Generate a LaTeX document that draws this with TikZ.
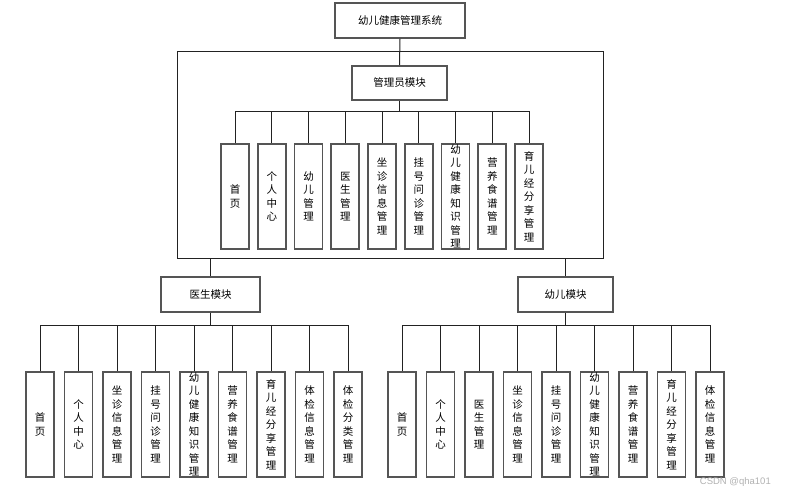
\documentclass[tikz,border=0pt]{standalone}
\usepackage{fontspec}
\newfontfamily\cjk{Noto Sans CJK SC}
\setsansfont{Liberation Sans}
\definecolor{boxline}{HTML}{555555}
\definecolor{conn}{HTML}{222222}
\begin{document}
\begin{tikzpicture}[x=1pt,y=-1pt,
  hbox/.style={draw=boxline,line width=1.6pt,fill=white,inner sep=0pt,font=\cjk\fontsize{10.5}{12}\selectfont},
  vbox/.style={draw=boxline,line width=1.6pt,fill=white,inner sep=0pt,minimum width=28,minimum height=105,align=center,font=\cjk\fontsize{10.5}{13.5}\selectfont},
  link/.style={draw=conn,line width=1pt}]
\useasboundingbox (0,0) rectangle (785,497);
\fill[white] (0,0) rectangle (785,497);
% frame of the admin module
\node[draw=conn,line width=1pt,minimum width=426,minimum height=207,inner sep=0pt] (frame) at (390,155.5) {};
% top
\node[hbox,minimum width=130,minimum height=35] (sys) at (400,20.5) {幼儿健康管理系统};
\node[hbox,minimum width=95,minimum height=34] (admin) at (399.5,83) {管理员模块};
\draw[link] (sys.south) -- (admin.north);
\node[hbox,minimum width=99,minimum height=35] (doc) at (210.5,294.5) {医生模块};
\node[hbox,minimum width=95,minimum height=35] (kid) at (565.5,294.5) {幼儿模块};
\draw[link] (doc.north |- frame.south) -- (doc.north);
\draw[link] (kid.north |- frame.south) -- (kid.north);
% buses
\coordinate (abus) at (399.5,112);
\coordinate (dbus) at (210.5,325);
\coordinate (kbus) at (565.5,325);
\draw[link] (admin.south) -- (abus);
\draw[link] (doc.south) -- (dbus);
\draw[link] (kid.south) -- (kbus);
% admin children
\foreach \t [count=\i] in {{首\\页},{个\\人\\中\\心},{幼\\儿\\管\\理},{医\\生\\管\\理},{坐\\诊\\信\\息\\管\\理},{挂\\号\\问\\诊\\管\\理},{幼\\儿\\健\\康\\知\\识\\管\\理},{营\\养\\食\\谱\\管\\理},{育\\儿\\经\\分\\享\\管\\理}}{
  \node[vbox] (a\i) at ({235+36.75*(\i-1)},196.5) {\t};
  \draw[link] (a\i.north) -- (a\i.north |- abus) -- (abus);
}
% doctor children
\foreach \t [count=\i] in {{首\\页},{个\\人\\中\\心},{坐\\诊\\信\\息\\管\\理},{挂\\号\\问\\诊\\管\\理},{幼\\儿\\健\\康\\知\\识\\管\\理},{营\\养\\食\\谱\\管\\理},{育\\儿\\经\\分\\享\\管\\理},{体\\检\\信\\息\\管\\理},{体\\检\\分\\类\\管\\理}}{
  \node[vbox] (d\i) at ({40+38.5*(\i-1)},424.5) {\t};
  \draw[link] (d\i.north) -- (d\i.north |- dbus) -- (dbus);
}
% child module children
\foreach \t [count=\i] in {{首\\页},{个\\人\\中\\心},{医\\生\\管\\理},{坐\\诊\\信\\息\\管\\理},{挂\\号\\问\\诊\\管\\理},{幼\\儿\\健\\康\\知\\识\\管\\理},{营\\养\\食\\谱\\管\\理},{育\\儿\\经\\分\\享\\管\\理},{体\\检\\信\\息\\管\\理}}{
  \node[vbox] (k\i) at ({402+38.5*(\i-1)},424.5) {\t};
  \draw[link] (k\i.north) -- (k\i.north |- kbus) -- (kbus);
}
\node[anchor=east,text=black!30,font=\sffamily\fontsize{9.5}{11}\selectfont,inner sep=0pt] (wm) at (771,482) {CSDN @qha101};
\end{tikzpicture}
\end{document}
